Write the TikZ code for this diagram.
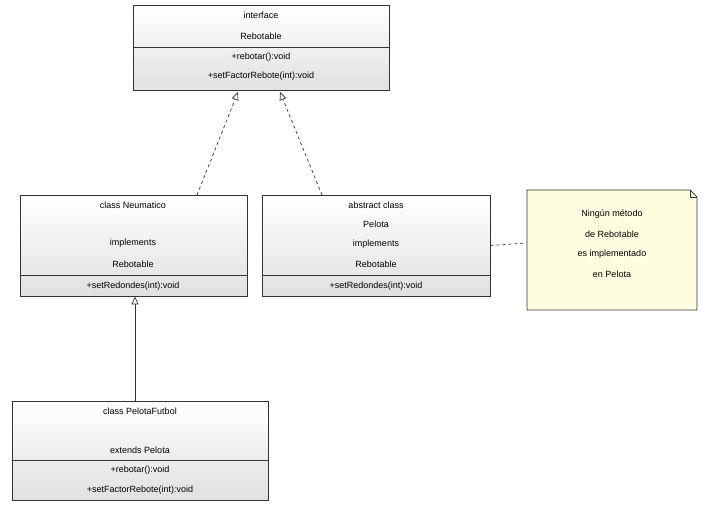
\documentclass[tikz,border=0pt]{standalone}
\usepackage{fontspec}
\setmainfont{Liberation Sans}
\usetikzlibrary{arrows.meta,shapes.misc}
\begin{document}
\begin{tikzpicture}[x=1pt,y=-1pt,
  box/.style={draw=black!80,line width=0.8pt,top color=white,bottom color=black!12,inner sep=0pt},
  txt/.style={font=\fontsize{9}{10}\selectfont,inner sep=0pt,anchor=center},
  dep/.style={draw=black!80,dashed,line width=0.7pt},
  inh/.style={draw=black!80,line width=0.7pt,-{Triangle[open,length=8pt,width=7pt]}}]
\useasboundingbox (0,0) rectangle (706,514);
% Rebotable
\node[box,minimum width=256pt,minimum height=85pt] (reb) at (261,47.5) {};
\draw[black!80] (133,47) -- (389,47);
\node[txt] (r1) at (261,15) {interface};
\node[txt] (r2) at (261,36) {Rebotable};
\node[txt] (r3) at (261,57) {+rebotar():void};
\node[txt] (r4) at (261,76) {+setFactorRebote(int):void};
% Neumatico
\node[box,minimum width=227pt,minimum height=101pt] (neu) at (133.5,245.5) {};
\draw[black!80] (20,275) -- (247,275);
\node[txt] (n1) at (133,205) {class Neumatico};
\node[txt] (n2) at (133,243) {implements};
\node[txt] (n3) at (133,264) {Rebotable};
\node[txt] (n4) at (133,286) {+setRedondes(int):void};
% Pelota
\node[box,minimum width=228pt,minimum height=101pt] (pel) at (376,245.5) {};
\draw[black!80] (262,275) -- (490,275);
\node[txt] (p1) at (376,205) {abstract class};
\node[txt] (p2) at (376,224) {Pelota};
\node[txt] (p3) at (376,244) {implements};
\node[txt] (p4) at (376,264) {Rebotable};
\node[txt] (p5) at (376,286) {+setRedondes(int):void};
% Note
\path[draw=black!80,line width=0.7pt,fill=yellow!12!white] (527,190) -- (690,190) -- (697,197) -- (697,310) -- (527,310) -- cycle;
\draw[black!80,line width=0.7pt] (690,190) -- (690,197) -- (697,197);
\coordinate (note) at (527,243);
\node[txt] (t1) at (612,214) {Ningún método};
\node[txt] (t2) at (612,234) {de Rebotable};
\node[txt] (t3) at (612,254) {es implementado};
\node[txt] (t4) at (612,274) {en Pelota};
% PelotaFutbol
\node[box,minimum width=256pt,minimum height=99pt] (fut) at (140,450.5) {};
\draw[black!80] (12,460) -- (268,460);
\node[txt] (f1) at (140,411) {class PelotaFutbol};
\node[txt] (f2) at (140,450) {extends Pelota};
\node[txt] (f3) at (140,470) {+rebotar():void};
\node[txt] (f4) at (140,490) {+setFactorRebote(int):void};
% connectors
\coordinate (a1) at (197,195); \coordinate (b1) at (238,92);
\coordinate (a2) at (322,195); \coordinate (b2) at (280,92);
\draw[dep,-{Triangle[open,length=8pt,width=7pt,fill=white]}] (a1) -- (b1);
\draw[dep,-{Triangle[open,length=8pt,width=7pt,fill=white]}] (a2) -- (b2);
\draw[inh] (fut.north -| 135,0) -- (neu.south -| 135,0);
\draw[dep] (pel.east) -- (note);
\end{tikzpicture}
\end{document}
